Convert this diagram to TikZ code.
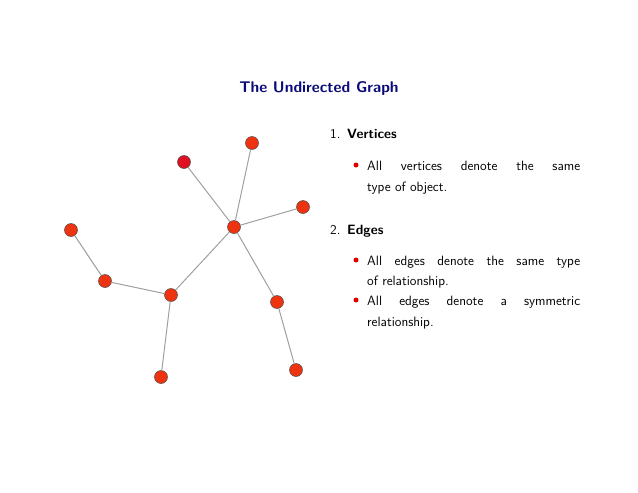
\documentclass[tikz,border=0pt]{standalone}
\begin{document}
\begin{tikzpicture}[x=1pt,y=-1pt,
  v/.style={circle,draw=black!70,fill=vred,minimum size=13pt,inner sep=0pt,line width=0.5pt},
  e/.style={draw=gray!75,line width=1pt},
  t/.style={anchor=base west,inner sep=0pt,font=\sffamily\fontsize{13.5}{16}\selectfont},
  bul/.style={circle,fill=red!90!black,inner sep=0pt,minimum size=5pt}]
\definecolor{vred}{HTML}{EE3311}
\definecolor{vcrim}{HTML}{DD1122}
\definecolor{tblue}{HTML}{0A0A7A}
\useasboundingbox (0,0) rectangle (638,493);
\node[v,fill=vcrim] (A) at (184,162) {};
\node[v] (B) at (252,143) {};
\node[v] (C) at (303,207) {};
\node[v] (H) at (234,227) {};
\node[v] (D) at (71,230) {};
\node[v] (E) at (105,281) {};
\node[v] (F) at (171,295) {};
\node[v] (G) at (277,302) {};
\node[v] (I) at (161,377) {};
\node[v] (J) at (296,370) {};
\begin{scope}[on background layer/.style={}]
\end{scope}
\draw[e] (A)--(H) (B)--(H) (C)--(H) (H)--(F) (H)--(G) (D)--(E) (E)--(F) (F)--(I) (G)--(J);
\node[font=\sffamily\bfseries\fontsize{15.5}{18}\selectfont,text=tblue] (title) at (319,89) {The Undirected Graph};
\node[t] (n1) at (330,138) {1.\enspace\textbf{Vertices}};
\node[bul] (b1) at (356,165) {};
\node[t] (l1) at (367,170) {\makebox[213pt][s]{All vertices denote the same}};
\node[t] (l2) at (367,191) {type of object.};
\node[t] (n2) at (330,234) {2.\enspace\textbf{Edges}};
\node[bul] (b2) at (356,260) {};
\node[t] (l3) at (367,265) {\makebox[213pt][s]{All edges denote the same type}};
\node[t] (l4) at (367,285) {of relationship.};
\node[bul] (b3) at (356,300) {};
\node[t] (l5) at (367,305) {\makebox[213pt][s]{All edges denote a symmetric}};
\node[t] (l6) at (367,326) {relationship.};
\end{tikzpicture}
\end{document}
